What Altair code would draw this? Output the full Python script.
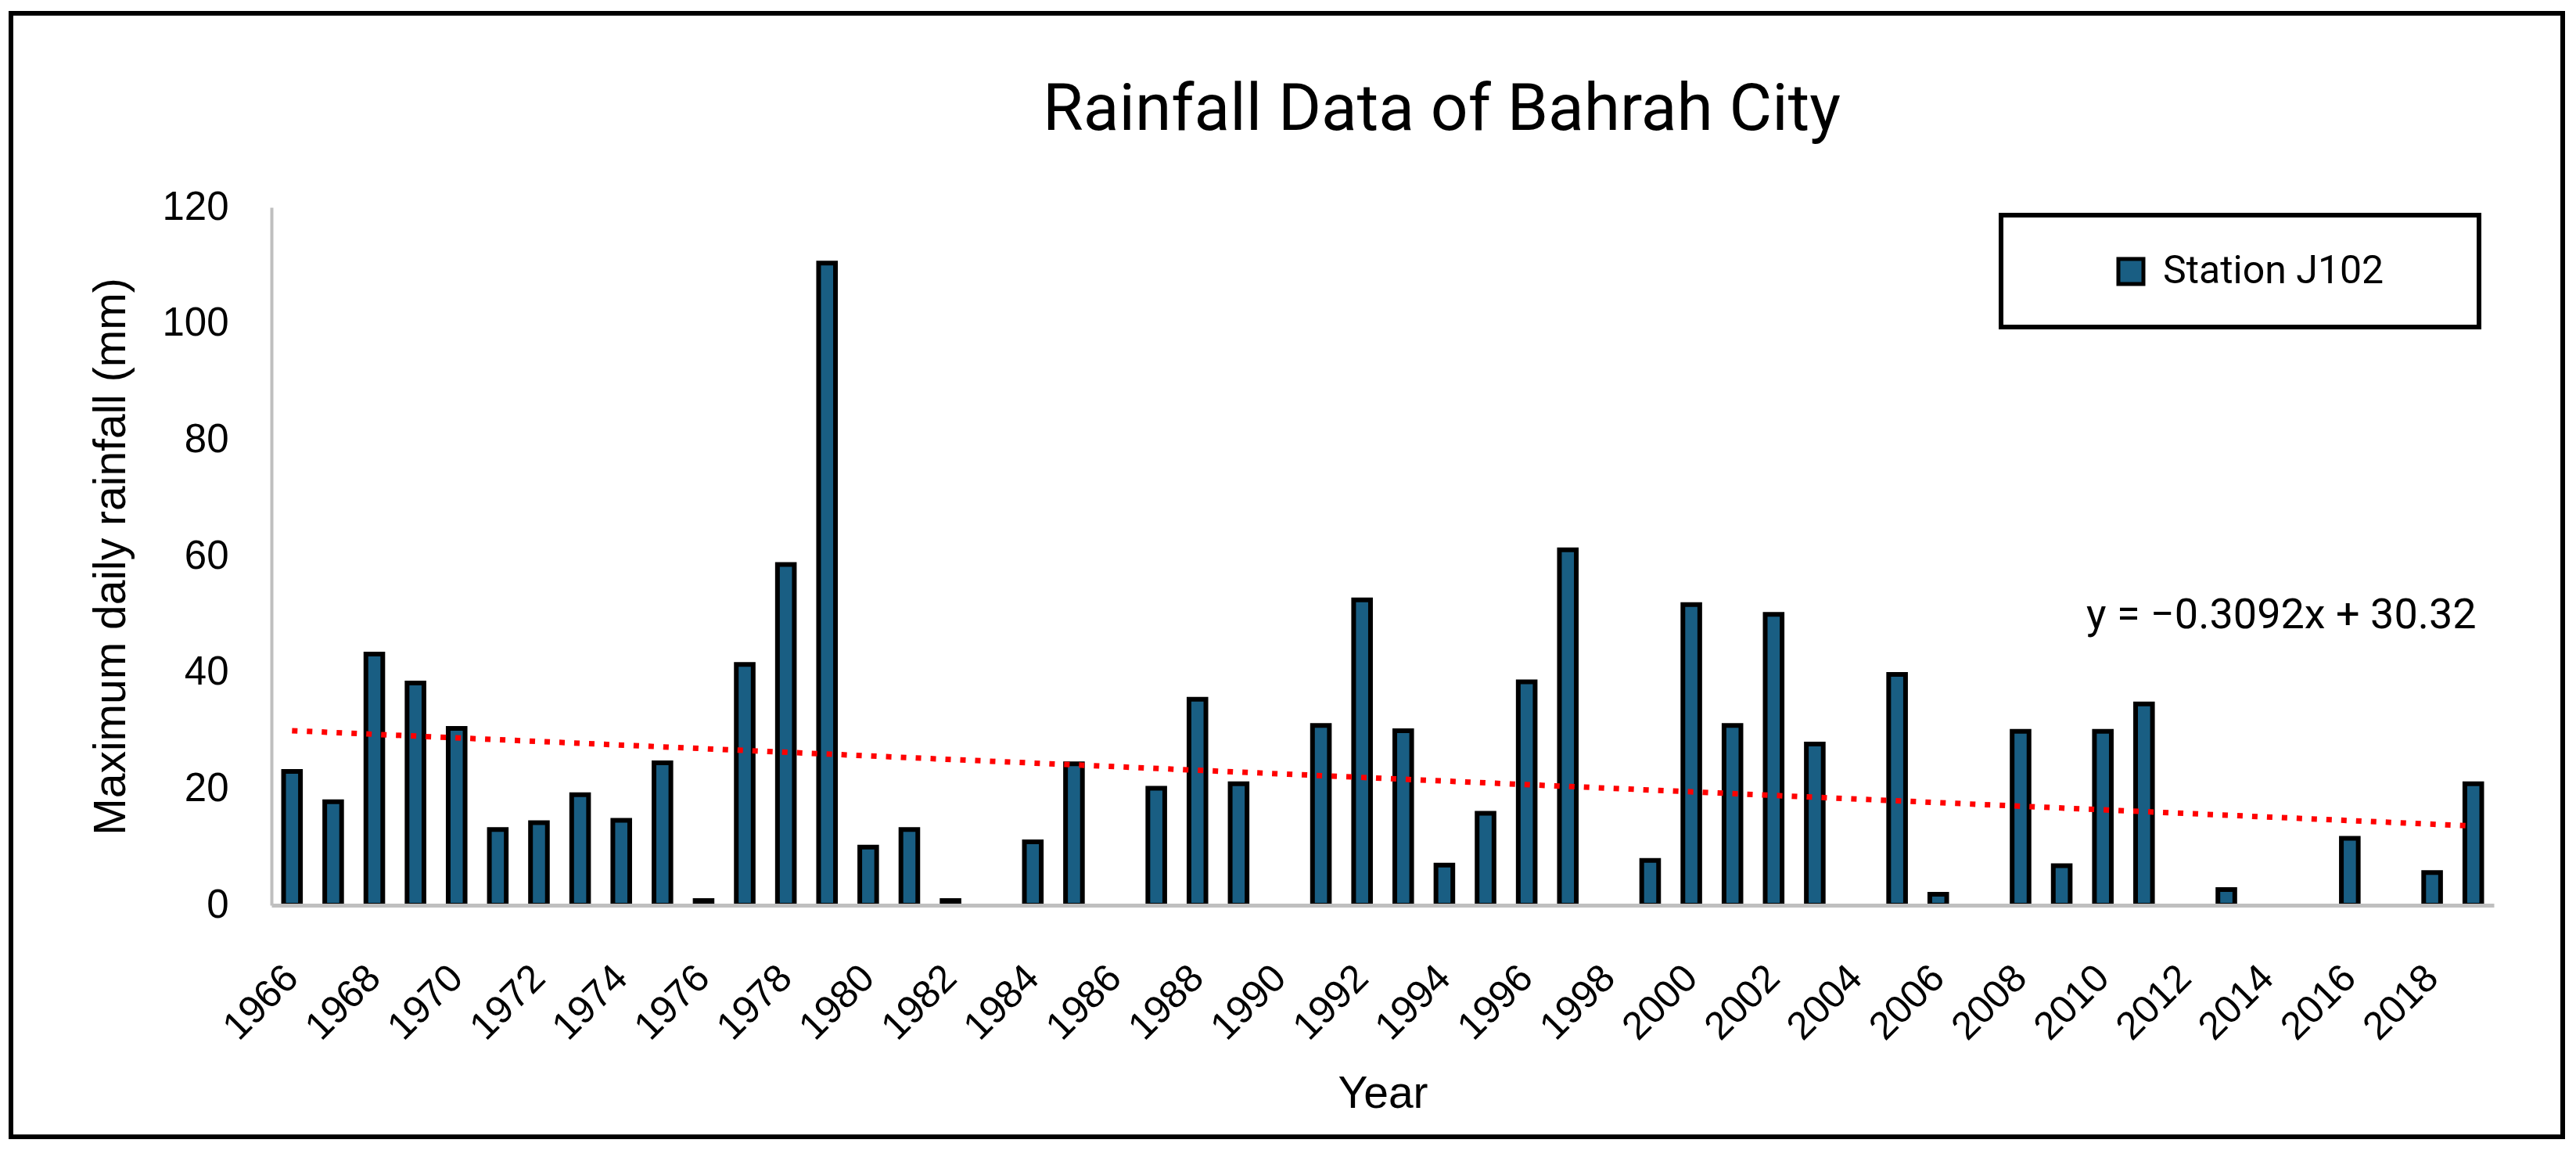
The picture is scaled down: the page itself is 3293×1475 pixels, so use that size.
import altair as alt
import pandas as pd

# Annual maximum daily rainfall, Station J102 (mm)
years = list(range(1966, 2020))
rainfall = [
    23.0, 17.8, 43.2, 38.2, 30.4, 13.0, 14.2, 19.0, 14.6, 24.5,
    0.8, 41.4, 58.6, 110.4, 10.0, 13.0, 0.8, 0.0, 10.9, 24.3,
    0.0, 20.1, 35.4, 20.9, 0.0, 30.9, 52.5, 30.0, 6.9, 15.8,
    38.4, 61.1, 0.0, 7.7, 51.7, 30.9, 50.0, 27.7, 0.0, 39.7,
    1.9, 0.0, 29.9, 6.8, 29.9, 34.6, 0.0, 2.7, 0.0, 0.0,
    11.5, 0.0, 5.6, 20.9,
]
series_name = "Station J102"
tick_years = list(range(1966, 2019, 2))
y_ticks = [0, 20, 40, 60, 80, 100, 120]

# Linear trend (x = 1, 2, ... for successive years)
trend_slope = -0.3092
trend_intercept = 30.32

BAR_COLOR = "#195E83"
AXIS_FONT = "Liberation Sans"
TEXT_FONT = "Roboto"

# Plot-area geometry (pixels)
W, H = 2841, 892
PAD = {"left": 347, "top": 265, "right": 105, "bottom": 318}

df = pd.DataFrame({"year": years, "rain": rainfall, "series": series_name})

trend_df = pd.DataFrame({
    "year": [years[0], years[-1]],
    "trend": [trend_intercept + trend_slope * 1,
              trend_intercept + trend_slope * len(years)],
})

eq_label = f"y = \u2212{abs(trend_slope)}x + {trend_intercept}"
eq_df = pd.DataFrame({"year": [years[-1]], "rain": [47.6], "label": [eq_label]})

x_enc = alt.X(
    "year:O",
    title="Year",
    scale=alt.Scale(domain=years, paddingInner=0.59, paddingOuter=0.295),
    axis=alt.Axis(
        values=tick_years,
        labelAngle=-45,
        labelAlign="right",
        labelBaseline="middle",
        labelPadding=85,
        labelFont=AXIS_FONT,
        labelFontSize=50,
        labelColor="#000000",
        ticks=False,
        tickSize=0,
        domainColor="#BFBFBF",
        domainWidth=5,
        titleFont=AXIS_FONT,
        titleFontSize=57,
        titleFontWeight="normal",
        titleColor="#000000",
        titleX=W / 2,
        titleY=258,
        titleAlign="center",
        titleBaseline="alphabetic",
        zindex=1,
    ),
)

y_enc = alt.Y(
    "rain:Q",
    title="Maximum daily rainfall (mm)",
    scale=alt.Scale(domain=[0, 120], nice=False),
    axis=alt.Axis(
        values=y_ticks,
        grid=False,
        ticks=False,
        tickSize=0,
        labelPadding=55,
        labelFont=AXIS_FONT,
        labelFontSize=51,
        labelColor="#000000",
        domainColor="#BFBFBF",
        domainWidth=4,
        titleFont=AXIS_FONT,
        titleFontSize=57,
        titleFontWeight="normal",
        titleColor="#000000",
        titleAngle=-90,
        titleX=-205,
        titleY=H / 2,
        titleAlign="center",
        titleBaseline="middle",
        zindex=1,
    ),
)

bars = alt.Chart(df).transform_filter("datum.rain > 0").mark_bar(
    stroke="black", strokeWidth=6
).encode(
    x=x_enc,
    y=y_enc,
    color=alt.Color(
        "series:N",
        scale=alt.Scale(domain=[series_name], range=[BAR_COLOR]),
        legend=alt.Legend(
            title=None,
            orient="none",
            legendX=2352,
            legendY=57,
            symbolType="square",
            symbolSize=1024,
            symbolStrokeColor="black",
            symbolStrokeWidth=5,
            labelFont=TEXT_FONT,
            labelFontSize=50,
            labelColor="#000000",
            labelOffset=16,
            labelLimit=1000,
            padding=0,
        ),
    ),
)

trend = alt.Chart(trend_df).mark_line(
    color="#FF0000", strokeWidth=7, strokeDash=[7, 12]
).encode(x="year:O", y="trend:Q")

equation = alt.Chart(eq_df).mark_text(
    font=TEXT_FONT, fontSize=54, color="#000000",
    align="right", baseline="alphabetic", dx=4,
).encode(x="year:O", y="rain:Q", text="label:N")

one_row = pd.DataFrame({"k": [0]})

# Box around the legend entry
legend_box = alt.Chart(one_row).mark_rect(
    filled=False, stroke="black", strokeWidth=6
).encode(
    x=alt.value(2211), x2=alt.value(2822),
    y=alt.value(10), y2=alt.value(153),
)

# Frame around the whole chart
frame = alt.Chart(one_row).mark_rect(
    filled=False, stroke="black", strokeWidth=6
).encode(
    x=alt.value(-333), x2=alt.value(2929),
    y=alt.value(-248), y2=alt.value(1188),
)

title = alt.Chart(one_row).mark_text(
    text="Rainfall Data of Bahrah City",
    font=TEXT_FONT, fontSize=84, color="#000000",
    align="center", baseline="alphabetic",
).encode(x=alt.value(1496), y=alt.value(-99))

chart = alt.layer(bars, trend, equation, legend_box, frame, title).properties(
    width=W,
    height=H,
    padding=PAD,
    autosize=alt.AutoSizeParams(type="none"),
    background="white",
).configure_view(stroke=None)

chart.save("out.html", embed_options={"renderer": "svg", "actions": False})
